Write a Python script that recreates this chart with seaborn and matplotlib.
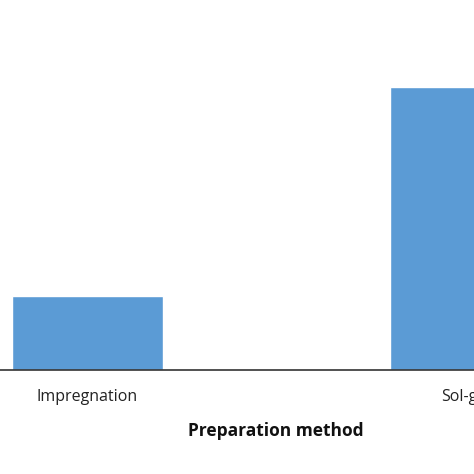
import matplotlib
matplotlib.use("Agg")
import matplotlib.pyplot as plt
import seaborn as sns
import pandas as pd

methods = ["Impregnation", "Sol-gel"]
values = [74, 283]

df = pd.DataFrame({"method": methods, "value": values})

sns.set_theme(style="white")
plt.rcParams['font.family'] = ['Open Sans', 'DejaVu Sans']

fig = plt.figure(figsize=(4.74, 4.74), dpi=100)
ax = fig.add_axes([0, 1 - 370 / 474, 1, 370 / 474])
sns.barplot(data=df, x="method", y="value", color="#5B9BD5", width=0.4,
            saturation=1, ax=ax)
ax.set_xlim(-0.2315, 1.0225)
ax.set_ylim(0, 370)
ax.set_yticks([])
ax.set_ylabel("")
for s in ["top", "left", "right"]:
    ax.spines[s].set_visible(False)
ax.spines["bottom"].set_color("#333333")
ax.spines["bottom"].set_linewidth(1.2)
ax.tick_params(axis="x", length=0, pad=14, labelsize=11.5, colors="#222222")
ax.set_xlabel("Preparation method", fontsize=12.5, fontweight="bold", color="#111111")
ax.xaxis.set_label_coords(276 / 474, -52 / 370)
fig.savefig("out.png", dpi=100)
